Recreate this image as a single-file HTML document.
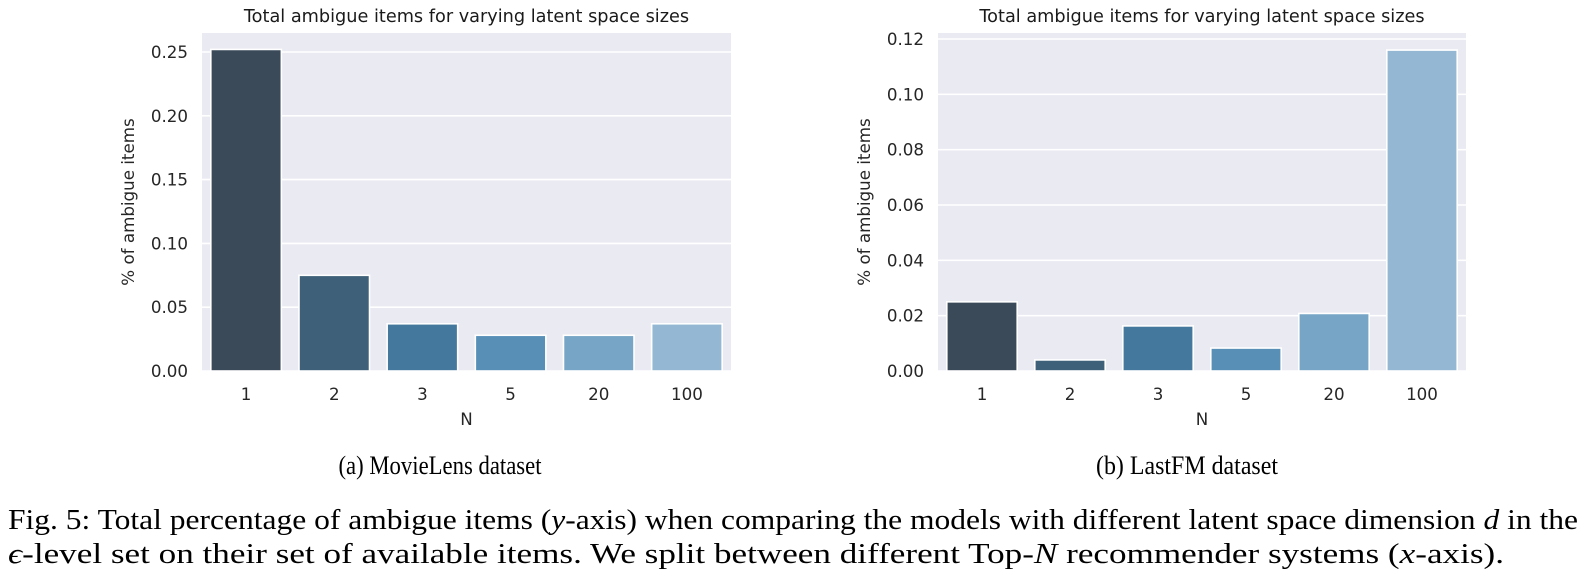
<!DOCTYPE html>
<html><head><meta charset="utf-8"><style>
html,body{margin:0;padding:0;background:#fff;}
svg{display:block;}
.tk{font-family:"DejaVu Sans","Liberation Sans",sans-serif;font-size:16.7px;fill:#262626;}
.ttl{font-family:"DejaVu Sans","Liberation Sans",sans-serif;font-size:17.7px;fill:#1a1a1a;}
.cap{font-family:"Liberation Serif",serif;fill:#000;}
</style></head><body>
<svg id="fig" width="1586" height="586" viewBox="0 0 1586 586" xmlns="http://www.w3.org/2000/svg">
<text class="cap" x="440" y="474" font-size="26" text-anchor="middle" textLength="203" lengthAdjust="spacingAndGlyphs">(a) MovieLens dataset</text>
<text class="cap" x="1187" y="474" font-size="26" text-anchor="middle" textLength="182" lengthAdjust="spacingAndGlyphs">(b) LastFM dataset</text>
<text class="cap" x="8" y="529" font-size="28" textLength="1570" lengthAdjust="spacingAndGlyphs">Fig. 5: Total percentage of ambigue items (<tspan font-style="italic">y</tspan>-axis) when comparing the models with different latent space dimension <tspan font-style="italic">d</tspan> in the</text>
<text class="cap" x="8" y="563" font-size="28" textLength="1496" lengthAdjust="spacingAndGlyphs"><tspan font-style="italic">ϵ</tspan>-level set on their set of available items. We split between different Top-<tspan font-style="italic">N</tspan> recommender systems (<tspan font-style="italic">x</tspan>-axis).</text>
</svg>
<script>
const categories = ["1","2","3","5","20","100"];
const movielensValues = [0.252, 0.075, 0.037, 0.028, 0.028, 0.037];
const lastfmValues = [0.025, 0.004, 0.0163, 0.0083, 0.0208, 0.116];
const movielensTicks = [0, 0.05, 0.10, 0.15, 0.20, 0.25];
const movielensTickLabels = ["0.00","0.05","0.10","0.15","0.20","0.25"];
const lastfmTicks = [0, 0.02, 0.04, 0.06, 0.08, 0.10, 0.12];
const lastfmTickLabels = ["0.00","0.02","0.04","0.06","0.08","0.10","0.12"];
const palette = ["#3a4a59","#3f6079","#44789d","#578fb7","#76a5c5","#94b8d3"];
const NS = "http://www.w3.org/2000/svg";
const svg = document.getElementById('fig');
function mk(tag, attrs, parent){const e=document.createElementNS(NS,tag);for(const k in attrs)e.setAttribute(k,attrs[k]);(parent||svg).appendChild(e);return e;}
function chart(prefix, L, R, T, B, yMax, ticks, labels, values){
  const g = mk('g',{});
  
  
  const y = v => B - v/yMax*(B-T);
  const band = (R-L)/categories.length;
  const x = i => L + band*i + band/2;
  const bg = mk('rect',{x:L,y:T,width:R-L,height:B-T,fill:'#eaeaf2'},g);
  
  
  ticks.forEach((t,i)=>{
    const ln = mk('line',{x1:L,x2:R,y1:y(t),y2:y(t),stroke:'#fff','stroke-width':1.6},g);
    
    
    const tx = mk('text',{x:L-14,y:y(t)+6,'text-anchor':'end',class:'tk'},g);
    tx.textContent = labels[i];
    
    
  });
  values.forEach((v,i)=>{
    const w = band*0.8;
    const r = mk('rect',{x:x(i)-w/2,y:y(v),width:w,height:B-y(v),fill:palette[i],stroke:'#fff','stroke-width':1.6},g);
    
    
    const tx = mk('text',{x:x(i),y:B+29,'text-anchor':'middle',class:'tk'},g);
    tx.textContent = categories[i];
    
    
  });
  const xt = mk('text',{x:(L+R)/2,y:B+54,'text-anchor':'middle',class:'tk','font-size':'18'},g);
  xt.textContent = 'N';
  
  
  const yt = mk('text',{transform:'translate('+(L-68)+','+((T+B)/2)+') rotate(-90)','text-anchor':'middle',class:'tk','font-size':'18'},g);
  yt.textContent = '% of ambigue items';
  
  
  const tt = mk('text',{x:(L+R)/2,y:T-11,'text-anchor':'middle',class:'ttl'},g);
  tt.textContent = 'Total ambigue items for varying latent space sizes';
  
  
}
chart('movielens', 202, 731, 33, 371, 0.25*(371-33)/(371-52), movielensTicks, movielensTickLabels, movielensValues);
chart('lastfm', 938, 1466, 33, 371, 0.12*(371-33)/(371-39), lastfmTicks, lastfmTickLabels, lastfmValues);
</script>
</body></html>
